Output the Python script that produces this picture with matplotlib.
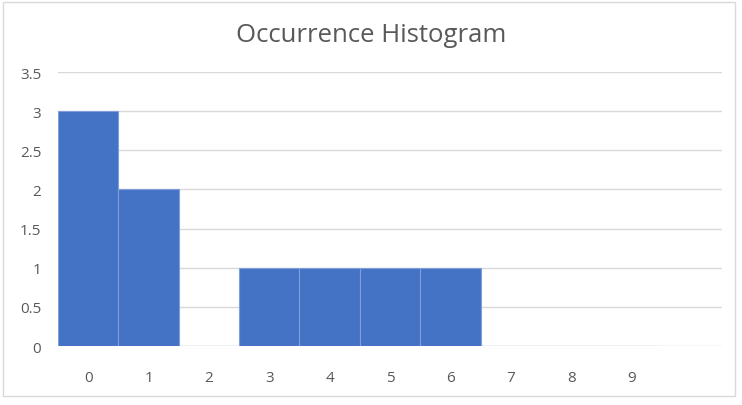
import matplotlib
matplotlib.use("Agg")
import matplotlib.pyplot as plt
import matplotlib.patches as patches

BINS = [0, 1, 2, 3, 4, 5, 6, 7, 8, 9]
COUNTS = [3, 2, 0, 1, 1, 1, 1, 0, 0, 0]
Y_TICKS = [0, 0.5, 1, 1.5, 2, 2.5, 3, 3.5]
Y_LABELS = ["0", "0.5", "1", "1.5", "2", "2.5", "3", "3.5"]

TEXT = "#595959"
GRID = "#d9d9d9"
BAR = "#4472C4"

plt.rcParams["font.family"] = ["Open Sans", "DejaVu Sans"]

fig = plt.figure(figsize=(7.42, 4.06), dpi=100)
ax = fig.add_axes([0.0782, 0.1453, 0.8948, 0.6747])

ax.bar(BINS, COUNTS, width=1.0, color=BAR, edgecolor="#7f9fd8", linewidth=0.8, zorder=3)

ax.set_xlim(-0.5, 10.5)
ax.set_ylim(0, 3.5)
ax.set_yticks(Y_TICKS)
ax.set_yticklabels(Y_LABELS)
ax.set_xticks(BINS)
ax.set_xticklabels([str(b) for b in BINS])
ax.tick_params(axis="both", length=0, labelsize=11, colors=TEXT)
ax.tick_params(axis="y", pad=12)
ax.tick_params(axis="x", pad=17)
ax.grid(axis="y", color=GRID, linewidth=1.0, zorder=0)
for s in ax.spines.values():
    s.set_visible(False)

fig.text(0.5, 0.912, "Occurrence Histogram", ha="center", va="center",
         fontsize=18.5, color=TEXT)

# outer chart border
fig.patches.append(patches.Rectangle((0.004, 0.022), 0.987, 0.97, transform=fig.transFigure,
                                     fill=False, edgecolor=GRID, linewidth=1.0))

fig.savefig("out.png", dpi=100)
